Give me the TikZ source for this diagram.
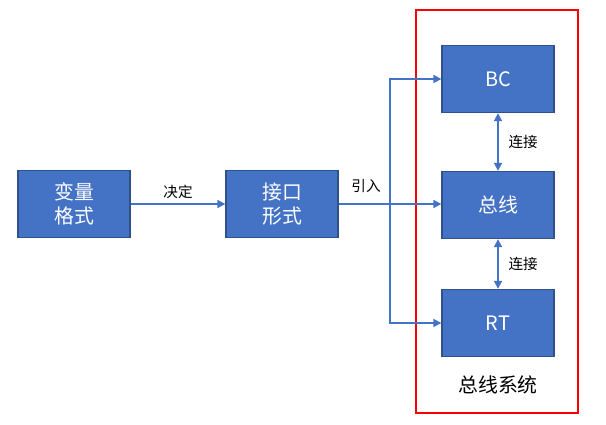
\documentclass[tikz,border=0pt]{standalone}
\usepackage{fontspec}
\setmainfont{Noto Sans CJK SC}
\usetikzlibrary{arrows.meta}
\definecolor{bfill}{HTML}{4472C4}
\definecolor{bdraw}{HTML}{2F528F}
\begin{document}
\begin{tikzpicture}[x=0.0265cm,y=-0.0265cm,
  box/.style={draw=bdraw,line width=1pt,fill=bfill,minimum width=112*0.0265cm,minimum height=67*0.0265cm,text=white,font=\fontsize{15}{18}\selectfont,align=center,inner sep=0pt},
  arr/.style={draw=bfill,line width=1.3pt,-{Triangle[length=6pt,width=6pt]}},
  darr/.style={draw=bfill,line width=1.3pt,{Triangle[length=6pt,width=6pt]}-{Triangle[length=6pt,width=6pt]}},
  lab/.style={font=\fontsize{11}{13}\selectfont}]
\useasboundingbox (0,0) rectangle (606,425);
\node[box] (a) at (74,204) {变量\\格式};
\node[box] (b) at (282,204) {接口\\形式};
\node[box] (bc) at (498,79) {BC};
\node[box] (bus) at (498,205) {总线};
\node[box] (rt) at (498,323) {RT};
\draw[red,line width=1.3pt] (416,10) rectangle (578,413);
\node[lab,font=\fontsize{15}{18}\selectfont] (sys) at (498,385) {总线系统};
\draw[arr] (a) -- node[lab,above]{决定} (b);
\draw[arr] (b.east) -- (bus.west |- b.east);
\node[lab] (yr) at (366,186) {引入};
\coordinate (j) at (390,204);
\draw[arr] (j) |- (bc.west);
\draw[arr] (j) |- (rt.west);
\draw[darr] (bc.south) -- node[lab,right=4pt]{连接} (bus.north);
\draw[darr] (bus.south) -- node[lab,right=4pt]{连接} (rt.north);
\end{tikzpicture}
\end{document}
